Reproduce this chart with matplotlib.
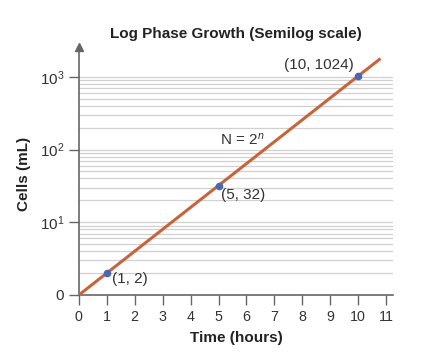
import numpy as np
import matplotlib
matplotlib.use("Agg")
import matplotlib.pyplot as plt
from matplotlib.ticker import FixedLocator, FixedFormatter, NullFormatter

plt.rcParams['font.family'] = ['Liberation Sans', 'DejaVu Sans']
plt.rcParams['mathtext.fontset'] = 'custom'
plt.rcParams['mathtext.rm'] = 'Liberation Sans'
plt.rcParams['mathtext.it'] = 'Liberation Sans:italic'

# Data
line_time = [0, 10.8]
line_cells = [1, 1782]
point_time = [1, 5, 10]
point_cells = [2, 32, 1024]
point_labels = ["(1, 2)", "(5, 32)", "(10, 1024)"]
y_ticks = [1, 10, 100, 1000]
y_tick_labels = ["0", "$10^1$", "$10^2$", "$10^3$"]
x_ticks = list(range(0, 12))

fig = plt.figure(figsize=(4.24, 3.58), dpi=100)
ax = fig.add_axes([0.186, 0.176, 0.741, 0.679])

ax.set_yscale('log')
ax.set_xlim(0, 11.25)
ax.set_ylim(1, 2200)

# horizontal grid at the log steps
minor = [m * 10 ** k for k in range(0, 3) for m in range(2, 10)]
ax.yaxis.set_minor_locator(FixedLocator(minor))
ax.yaxis.set_minor_formatter(NullFormatter())
ax.yaxis.set_major_locator(FixedLocator(y_ticks))
ax.yaxis.set_major_formatter(FixedFormatter(y_tick_labels))
ax.grid(True, which='both', axis='y', color='#d0d0d0', linewidth=0.9)
ax.set_axisbelow(True)

ax.plot(line_time, line_cells, color='#c8643c', linewidth=2.2, solid_capstyle='butt', zorder=3)
ax.plot(point_time, point_cells, 'o', color='#4a68b0', markersize=4.5, zorder=4)

ax.text(1.2, 2.05, point_labels[0], fontsize=11, color='#333333', va='top', ha='left')
ax.text(5.1, 30, point_labels[1], fontsize=11, color='#333333', va='top', ha='left')
ax.text(9.85, 1150, point_labels[2], fontsize=11, color='#333333', va='bottom', ha='right')
ax.text(5.05, 135, r"N = 2$^{n}$", fontsize=11, color='#333333', va='center', ha='left')

ax.set_xticks(x_ticks)
ax.tick_params(axis='both', which='major', direction='out', length=7, width=1,
               color='#666666', labelsize=11, labelcolor='#333333')
ax.tick_params(axis='x', which='major', labelsize=10.3)
ax.tick_params(axis='y', which='minor', length=0)

for s in ['top', 'right']:
    ax.spines[s].set_visible(False)
for s in ['left', 'bottom']:
    ax.spines[s].set_color('#666666')
    ax.spines[s].set_linewidth(1.2)

# arrow on top of the y axis
ax.plot(0, 1.02, marker='^', color='#666666', markersize=6, transform=ax.transAxes, clip_on=False)

ax.set_xlabel("Time (hours)", fontsize=11, fontweight='bold', color='#222222', labelpad=5)
ax.set_ylabel("Cells (mL)", fontsize=11, fontweight='bold', color='#222222', labelpad=6)
ax.set_title("Log Phase Growth (Semilog scale)", fontsize=11, fontweight='bold', color='#222222', pad=10)

fig.savefig("out.png", dpi=100)
